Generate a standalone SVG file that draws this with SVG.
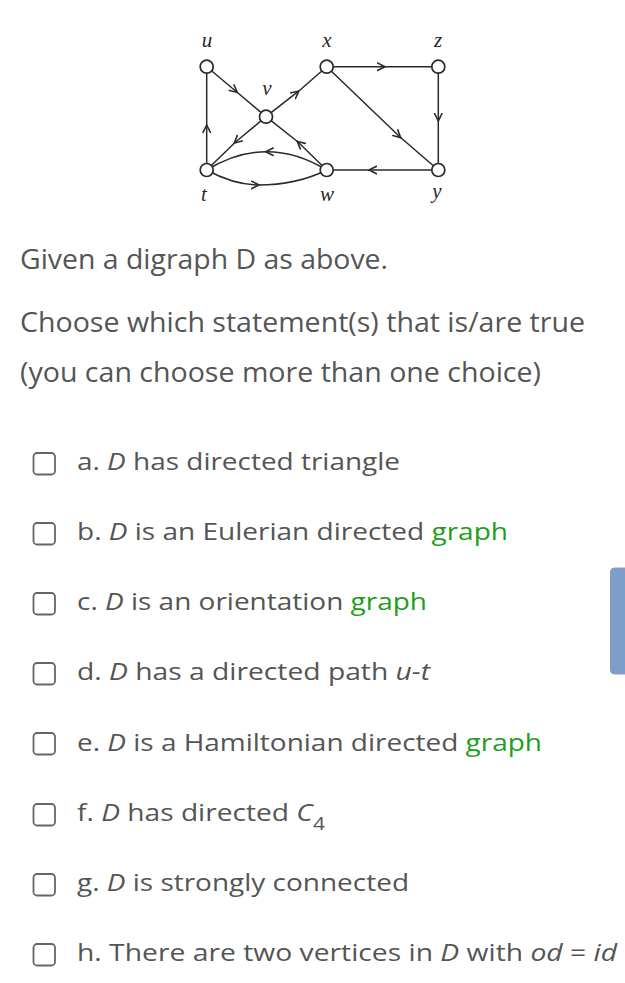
<svg xmlns="http://www.w3.org/2000/svg" width="625" height="983" viewBox="0 0 625 983">
<style>
.e{fill:none;stroke:#2a2a2a;stroke-width:1.5;marker-mid:url(#ar)}
.n{fill:#fff;stroke:#2a2a2a;stroke-width:1.7}
.lb{font-family:"Liberation Serif",serif;font-style:italic;font-size:21px;fill:#2a2a2a;text-anchor:middle}
.t{font-family:"Open Sans",sans-serif;fill:#555}
.h{font-size:27px}
.o{font-size:24px}
.g{fill:#1e9e1e}
.i{font-style:italic}
.cb{fill:#fff;stroke:#666;stroke-width:1.8}
</style>
<defs>
<marker id="ar" viewBox="0 0 12 12" refX="7" refY="6" markerWidth="12" markerHeight="12" markerUnits="userSpaceOnUse" orient="auto">
<path d="M0,2 L8,6 L0,10" fill="none" stroke="#2a2a2a" stroke-width="1.6"/>
</marker>
</defs>
<rect width="625" height="983" fill="#fff"/>
<g id="edges">
<path class="e" d="M206.7,66.7 L236.5,91.8 L266,116.7"/>
<path class="e" d="M266,116.7 L298,91.7 L326.7,66.7"/>
<path class="e" d="M326.7,66.7 L384,66.7 L438.3,66.7"/>
<path class="e" d="M438.3,66.7 L438.3,120 L438.3,170"/>
<path class="e" d="M326.7,66.7 L400,137 L438.3,170"/>
<path class="e" d="M438.3,170 L370,170 L326.7,170"/>
<path class="e" d="M326.7,170 L298,142 L266,116.7"/>
<path class="e" d="M266,116.7 L235,142.5 L206.7,170"/>
<path class="e" d="M206.7,170 L206.7,126 L206.7,66.7"/>
<path class="e" d="M206.7,170 Q233,184.5 258,185 Q296.7,185 326.7,170"/>
<path class="e" d="M326.7,170 Q296.7,151.7 266.7,151.7 Q236.7,151.7 206.7,170"/>
</g>
<g id="node-u"><circle class="n" cx="206.7" cy="66.7" r="6.5"/><text class="lb" x="207" y="47">u</text></g>
<g id="node-x"><circle class="n" cx="326.7" cy="66.7" r="6.5"/><text class="lb" x="327" y="47">x</text></g>
<g id="node-z"><circle class="n" cx="438.3" cy="66.7" r="6.5"/><text class="lb" x="438" y="47">z</text></g>
<g id="node-v"><circle class="n" cx="266" cy="116.7" r="6.5"/><text class="lb" x="267" y="95">v</text></g>
<g id="node-t"><circle class="n" cx="206.7" cy="170" r="6.5"/><text class="lb" x="204" y="201">t</text></g>
<g id="node-w"><circle class="n" cx="326.7" cy="170" r="6.5"/><text class="lb" x="327" y="201">w</text></g>
<g id="node-y"><circle class="n" cx="438.3" cy="170" r="6.5"/><text class="lb" x="437" y="198">y</text></g>

<g id="text">
<text class="t h" x="20" y="269" textLength="368" lengthAdjust="spacingAndGlyphs">Given a digraph D as above.</text>
<text class="t h" x="20" y="332" textLength="565" lengthAdjust="spacingAndGlyphs">Choose which statement(s) that is/are true</text>
<text class="t h" x="20" y="382" textLength="521" lengthAdjust="spacingAndGlyphs">(you can choose more than one choice)</text>
</g>
<g id="options">
<rect class="cb" x="33.5" y="453" width="21.5" height="21.5" rx="3.5"/>
<text class="t o" x="77" y="470" textLength="323" lengthAdjust="spacingAndGlyphs">a. <tspan class="i">D</tspan> has directed triangle</text>
<rect class="cb" x="33.5" y="523" width="21.5" height="21.5" rx="3.5"/>
<text class="t o" x="77" y="540" textLength="431" lengthAdjust="spacingAndGlyphs">b. <tspan class="i">D</tspan> is an Eulerian directed <tspan class="g">graph</tspan></text>
<rect class="cb" x="33.5" y="593" width="21.5" height="21.5" rx="3.5"/>
<text class="t o" x="77" y="610" textLength="350" lengthAdjust="spacingAndGlyphs">c. <tspan class="i">D</tspan> is an orientation <tspan class="g">graph</tspan></text>
<rect class="cb" x="33.5" y="663" width="21.5" height="21.5" rx="3.5"/>
<text class="t o" x="77" y="680" textLength="353" lengthAdjust="spacingAndGlyphs">d. <tspan class="i">D</tspan> has a directed path <tspan class="i">u-t</tspan></text>
<rect class="cb" x="33.5" y="733" width="21.5" height="21.5" rx="3.5"/>
<text class="t o" x="77" y="751" textLength="465" lengthAdjust="spacingAndGlyphs">e. <tspan class="i">D</tspan> is a Hamiltonian directed <tspan class="g">graph</tspan></text>
<rect class="cb" x="33.5" y="804" width="21.5" height="21.5" rx="3.5"/>
<text class="t o" x="77" y="821" textLength="248" lengthAdjust="spacingAndGlyphs">f. <tspan class="i">D</tspan> has directed <tspan class="i">C</tspan><tspan font-size="18" dy="9">4</tspan></text>
<rect class="cb" x="33.5" y="874" width="21.5" height="21.5" rx="3.5"/>
<text class="t o" x="77" y="891" textLength="332" lengthAdjust="spacingAndGlyphs">g. <tspan class="i">D</tspan> is strongly connected</text>
<rect class="cb" x="33.5" y="944" width="21.5" height="21.5" rx="3.5"/>
<text class="t o" x="77" y="961" textLength="540" lengthAdjust="spacingAndGlyphs">h. There are two vertices in <tspan class="i">D</tspan> with <tspan class="i">od</tspan> = <tspan class="i">id</tspan></text>
</g>
<g id="side-tab">
<rect x="610.5" y="568" width="20" height="106" rx="4" fill="#7e9ec9" stroke="#8a9cb4" stroke-width="1"/>
</g>
</svg>
